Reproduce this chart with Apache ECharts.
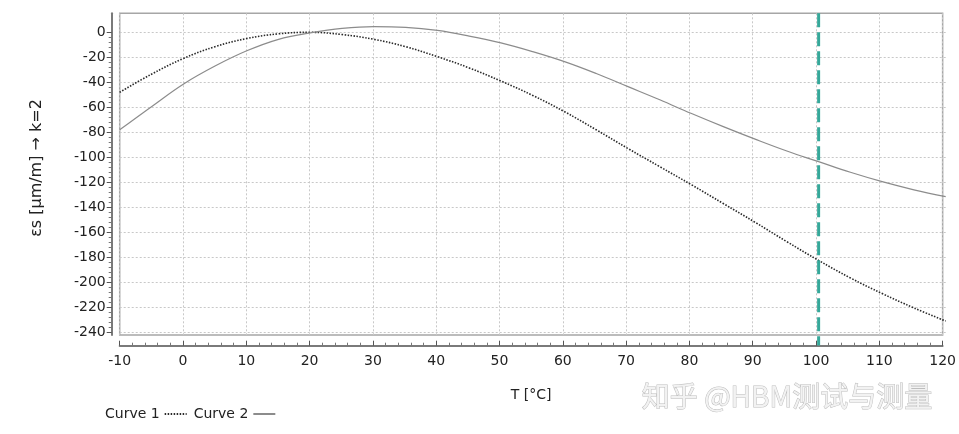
<!DOCTYPE html>
<html>
<head>
<meta charset="utf-8">
<script src="https://cdn.jsdelivr.net/npm/echarts@6/dist/echarts.min.js"></script>
<style>html,body{margin:0;padding:0;background:#fff}#c{width:959px;height:434px}</style>
</head>
<body>
<div id="c"></div>
<script>
const temps = [-10,-5,0,5,10,15,20,25,30,35,40,45,50,55,60,65,70,75,80,85,90,95,100,105,110,115,120];
const curve1 = [-48,-33.5,-21,-11.5,-5,-1.2,0,-1.8,-5.6,-11.5,-19.5,-28.5,-39,-50.5,-63.5,-78,-93,-107.5,-122,-137,-152,-167.5,-182.5,-196.5,-209,-220.5,-231];
const curve2 = [-78,-59.5,-41.5,-27,-14.8,-5.6,-0.5,3.1,4.6,4.0,1.5,-3,-8.5,-15.5,-23.5,-33,-43.5,-54,-65,-75.5,-85.5,-95,-103.5,-112,-119.5,-126,-131.5];
const markerT = 100;
const markerSpan = [15.2, -250.6];
const xTicks = {min: -10, max: 120, interval: 10};
const yTicks = {min: -240, max: 0, interval: 20};

const font = 'DejaVu Sans';
const chart = echarts.init(document.getElementById('c'));
chart.setOption({
  animation: false,
  backgroundColor: '#fff',
  grid: [
    {left: 119.7, right: 13.3, top: 32.3, bottom: 101.7, show: false},
    {left: 119.7, right: 13.3, top: 13.3, bottom: 99, show: true, borderColor: '#a6a6a6', borderWidth: 1.5, backgroundColor: 'transparent'}
  ],
  xAxis: [
    {gridIndex: 0, type: 'value', min: xTicks.min, max: xTicks.max, interval: xTicks.interval, show: false},
    {gridIndex: 1, type: 'value', min: xTicks.min, max: xTicks.max, interval: xTicks.interval, position: 'bottom', offset: 10.7,
      axisLine: {show: true, onZero: false, lineStyle: {color: '#7a7a7a', width: 2}},
      axisTick: {show: true, inside: true, length: 5, lineStyle: {color: '#555'}},
      minorTick: {show: true, splitNumber: 5, length: 3, lineStyle: {color: '#777'}},
      axisLabel: {color: '#222', fontFamily: font, fontSize: 14, margin: 9},
      splitLine: {show: true, lineStyle: {color: '#c8c8c8', type: [2, 2], width: 1}},
      name: 'T [°C]', nameLocation: 'middle', nameGap: 43,
      nameTextStyle: {color: '#222', fontFamily: font, fontSize: 14}
    }
  ],
  yAxis: [
    {gridIndex: 0, type: 'value', min: yTicks.min, max: yTicks.max, interval: yTicks.interval, position: 'left', offset: 8,
      axisLine: {show: false, onZero: false},
      axisTick: {show: true, length: 5, lineStyle: {color: '#555'}},
      minorTick: {show: true, splitNumber: 5, length: 3, lineStyle: {color: '#777'}},
      axisLabel: {color: '#222', fontFamily: font, fontSize: 14, margin: 6},
      splitLine: {show: true, lineStyle: {color: '#c8c8c8', type: [2, 2], width: 1}}
    },
    {gridIndex: 1, type: 'value', min: 0, max: 1, position: 'left', offset: 8,
      axisLine: {show: true, onZero: false, lineStyle: {color: '#7a7a7a', width: 2}},
      axisTick: {show: false}, axisLabel: {show: false}, splitLine: {show: false}
    }
  ],
  legend: {
    left: 100, top: 402, align: 'right', itemGap: 6, itemWidth: 22, itemHeight: 10,
    data: ['Curve 1', 'Curve 2'],
    itemStyle: {opacity: 0},
    textStyle: {color: '#222', fontFamily: font, fontSize: 14, padding: [0, 0, 0, 0]}
  },
  series: [
    {name: 'Curve 1', type: 'line', xAxisIndex: 0, yAxisIndex: 0, smooth: 0.4, symbol: 'none', clip: false,
      data: temps.map((t, i) => [t, curve1[i]]),
      lineStyle: {color: '#2a2a2a', width: 1.6, type: [1.5, 1.5]}, itemStyle: {color: '#2a2a2a'}},
    {name: 'Curve 2', type: 'line', xAxisIndex: 0, yAxisIndex: 0, smooth: 0.4, symbol: 'none', clip: false,
      data: temps.map((t, i) => [t, curve2[i]]),
      lineStyle: {color: '#8c8c8c', width: 1.2}, itemStyle: {color: '#8c8c8c'}},
    {name: 'marker', type: 'line', xAxisIndex: 0, yAxisIndex: 0, symbol: 'none', clip: false, silent: true, z: 5,
      data: markerSpan.map(v => [markerT, v]),
      lineStyle: {color: '#36a89a', width: 3, type: [14, 5]}}
  ],
  graphic: [
    {type: 'text', x: 37, y: 168, rotation: Math.PI / 2,
      style: {text: 'εs [µm/m] → k=2', fill: '#222', font: '16px "DejaVu Sans"', align: 'center', verticalAlign: 'middle'}},
    {type: 'text', x: 787, y: 396,
      style: {text: '知乎 @HBM测试与测量', fill: '#f2f2f2', stroke: '#bdbdbd', lineWidth: 1, font: '28px "Noto Sans CJK SC"', align: 'center', verticalAlign: 'middle'}}
  ]
});
</script>
</body>
</html>
